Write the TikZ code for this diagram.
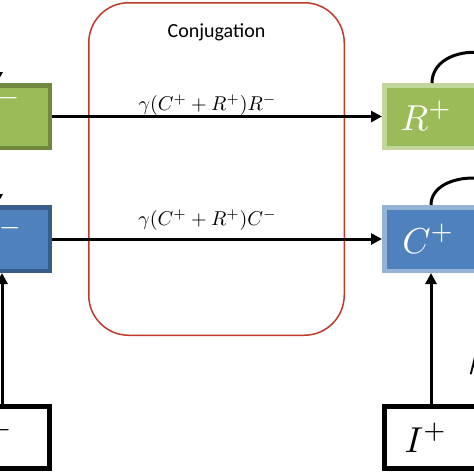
\documentclass[tikz,border=0pt]{standalone}
\usepackage{fontspec}
\usepackage{graphicx}
\newfontfamily\calibri{Carlito}
\usetikzlibrary{arrows.meta}
\definecolor{gfill}{HTML}{9BBB59}
\definecolor{gdark}{HTML}{71893F}
\definecolor{glight}{HTML}{C3D69B}
\definecolor{bfill}{HTML}{4F81BD}
\definecolor{bdark}{HTML}{385D8A}
\definecolor{blight}{HTML}{95B3D7}
\definecolor{conj}{HTML}{C0392B}
\newcommand{\boxmath}[1]{\scalebox{3.6}{$#1$}}
\newcommand{\labmath}[1]{\scalebox{2}{$#1$}}
\tikzset{
  boxL/.style={minimum width=133.5pt, minimum height=62.5pt, line width=4.5pt, inner sep=0pt},
  flow/.style={line width=3pt, -{Triangle[length=11pt,width=11pt]}},
  loopline/.style={line width=3pt},
  big/.style={inner sep=0pt},
  lab/.style={inner sep=0pt},
}
\begin{document}
\begin{tikzpicture}[x=1pt,y=-1pt]
\useasboundingbox (0,0) rectangle (474,474);
\clip (0,0) rectangle (474,474);
\fill[white] (0,0) rectangle (474,474);
% conjugation frame
\node[draw=conj, line width=1.5pt, rounded corners=40pt, minimum width=255.5pt, minimum height=332.5pt, inner sep=0pt] (conjbox) at (216.5,169) {};
\node[font=\calibri\fontsize{20}{23}\selectfont, anchor=base, inner sep=0pt] (conjlab) at (216.5,37) {Conjugation};
% boxes
\node[boxL, fill=gfill, draw=gdark] (Rm) at (-17,116.5) {};
\node[boxL, fill=gfill, draw=glight] (Rp) at (451,116.5) {};
\node[boxL, fill=bfill, draw=bdark, minimum height=63.5pt] (Cm) at (-17,239) {};
\node[boxL, fill=bfill, draw=blight, minimum height=63.5pt] (Cp) at (451,239) {};
\node[boxL, fill=white, draw=black, line width=5pt, minimum width=133pt, minimum height=62pt] (Im) at (-17,437.5) {};
\node[boxL, fill=white, draw=black, line width=5pt, minimum width=133pt, minimum height=62pt] (Ip) at (451,437.5) {};
% box texts
\node[big, text=white, anchor=base] (tRp) at (426.5,130) {\boxmath{R^+}};
\node[big, text=white, anchor=base] (tCp) at (428.5,253) {\boxmath{C^+}};
\node[big, anchor=base] (tIp) at (426,452) {\boxmath{I^+}};
\node[big, text=white, anchor=base] (tRm) at (-4.5,118) {\boxmath{R^-}};
\node[big, text=white, anchor=base] (tCm) at (-3.5,248) {\boxmath{C^-}};
\node[big, anchor=base] (tIm) at (-8,450) {\boxmath{I^-}};
% transfer arrows
\draw[flow] (Rm.east) -- (Rp.west);
\draw[flow] (Cm.east) -- (Cp.west);
\node[lab, anchor=base] (l1) at (207.5,110.5) {\labmath{\gamma(C^+ + R^+)R^-}};
\node[lab, anchor=base] (l2) at (207.5,225.5) {\labmath{\gamma(C^+ + R^+)C^-}};
% vertical arrows
\draw[flow] ([xshift=19pt]Im.north) -- ([xshift=19pt]Cm.south);
\draw[flow] ([xshift=-20pt]Ip.north) -- ([xshift=-20pt]Cp.south);
\node[anchor=base west, inner sep=0pt] (rate) at (469,368) {\scalebox{3}{$\mu$}};
% self loops
\draw[loopline] ([xshift=-19pt]Rp.north) .. controls +(0,-41) and +(0,-41) .. ([xshift=65pt]Rp.north);
\draw[loopline] ([xshift=-20pt]Cp.north) .. controls +(0,-36) and +(0,-36) .. ([xshift=64pt]Cp.north);
\draw[flow] ([xshift=-70pt]Rm.north) .. controls +(0,-41) and +(0,-41) .. ([xshift=14pt]Rm.north);
\draw[flow] ([xshift=-70pt]Cm.north) .. controls +(0,-36) and +(0,-36) .. ([xshift=14pt]Cm.north);
\end{tikzpicture}
\end{document}
